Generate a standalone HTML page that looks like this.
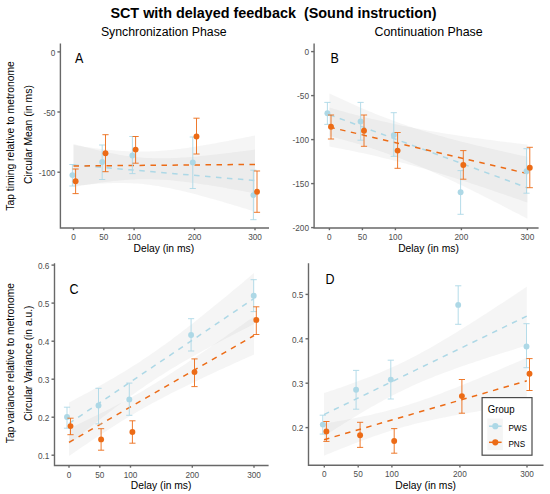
<!DOCTYPE html>
<html><head><meta charset="utf-8"><style>html,body{margin:0;padding:0;background:#fff;}svg{display:block;}</style></head>
<body><svg width="550" height="494" viewBox="0 0 550 494">
<rect width="550" height="494" fill="#fff"/>
<text x="273.5" y="18.1" font-size="14.4" font-family="Liberation Sans, sans-serif" fill="#000" text-anchor="middle" font-weight="bold">SCT with delayed feedback&#160;&#160;(Sound instruction)</text><text x="163.8" y="35.7" font-size="12.3" font-family="Liberation Sans, sans-serif" fill="#000" text-anchor="middle" font-weight="normal">Synchronization Phase</text><text x="428.6" y="35.7" font-size="12.4" font-family="Liberation Sans, sans-serif" fill="#000" text-anchor="middle" font-weight="normal">Continuation Phase</text><path d="M73.50,145.00 L76.53,145.49 L79.55,145.96 L82.58,146.42 L85.60,146.88 L88.62,147.31 L91.65,147.74 L94.67,148.15 L97.70,148.54 L100.72,148.91 L103.75,149.27 L106.78,149.61 L109.80,149.92 L112.83,150.21 L115.85,150.47 L118.88,150.71 L121.90,150.93 L124.92,151.11 L127.95,151.26 L130.97,151.39 L134.00,151.48 L137.03,151.53 L140.05,151.56 L143.07,151.54 L146.10,151.50 L149.12,151.42 L152.15,151.31 L155.18,151.16 L158.20,150.98 L161.22,150.77 L164.25,150.53 L167.28,150.27 L170.30,149.97 L173.32,149.65 L176.35,149.30 L179.38,148.93 L182.40,148.54 L185.43,148.13 L188.45,147.70 L191.48,147.26 L194.50,146.79 L197.53,146.31 L200.55,145.82 L203.57,145.32 L206.60,144.80 L209.62,144.27 L212.65,143.73 L215.68,143.18 L218.70,142.62 L221.72,142.05 L224.75,141.48 L227.78,140.90 L230.80,140.31 L233.82,139.71 L236.85,139.11 L239.88,138.50 L242.90,137.89 L245.92,137.28 L248.95,136.65 L251.97,136.03 L255.00,135.40 L255.00,193.40 L251.97,192.82 L248.95,192.25 L245.92,191.68 L242.90,191.12 L239.88,190.56 L236.85,190.01 L233.82,189.46 L230.80,188.92 L227.78,188.38 L224.75,187.86 L221.72,187.33 L218.70,186.82 L215.68,186.31 L212.65,185.82 L209.62,185.33 L206.60,184.86 L203.57,184.39 L200.55,183.94 L197.53,183.50 L194.50,183.07 L191.48,182.66 L188.45,182.27 L185.43,181.89 L182.40,181.54 L179.38,181.20 L176.35,180.88 L173.32,180.59 L170.30,180.32 L167.28,180.08 L164.25,179.87 L161.22,179.68 L158.20,179.52 L155.18,179.40 L152.15,179.31 L149.12,179.25 L146.10,179.22 L143.07,179.23 L140.05,179.27 L137.03,179.35 L134.00,179.46 L130.97,179.60 L127.95,179.78 L124.92,179.98 L121.90,180.22 L118.88,180.49 L115.85,180.78 L112.83,181.10 L109.80,181.44 L106.78,181.81 L103.75,182.20 L100.72,182.61 L97.70,183.03 L94.67,183.48 L91.65,183.94 L88.62,184.42 L85.60,184.91 L82.58,185.42 L79.55,185.93 L76.53,186.46 L73.50,187.00Z" fill="#999999" fill-opacity="0.1"/><path d="M73.50,143.90 L76.53,144.73 L79.55,145.55 L82.58,146.36 L85.60,147.16 L88.62,147.94 L91.65,148.71 L94.67,149.45 L97.70,150.18 L100.72,150.90 L103.75,151.58 L106.78,152.25 L109.80,152.89 L112.83,153.50 L115.85,154.08 L118.88,154.63 L121.90,155.15 L124.92,155.64 L127.95,156.08 L130.97,156.49 L134.00,156.86 L137.03,157.18 L140.05,157.47 L143.07,157.72 L146.10,157.92 L149.12,158.08 L152.15,158.20 L155.18,158.29 L158.20,158.33 L161.22,158.34 L164.25,158.32 L167.28,158.27 L170.30,158.18 L173.32,158.07 L176.35,157.94 L179.38,157.77 L182.40,157.59 L185.43,157.39 L188.45,157.16 L191.48,156.93 L194.50,156.67 L197.53,156.40 L200.55,156.12 L203.57,155.82 L206.60,155.51 L209.62,155.20 L212.65,154.87 L215.68,154.53 L218.70,154.19 L221.72,153.84 L224.75,153.48 L227.78,153.11 L230.80,152.74 L233.82,152.36 L236.85,151.98 L239.88,151.60 L242.90,151.20 L245.92,150.81 L248.95,150.41 L251.97,150.01 L255.00,149.60 L255.00,211.60 L251.97,210.67 L248.95,209.74 L245.92,208.82 L242.90,207.90 L239.88,206.99 L236.85,206.08 L233.82,205.17 L230.80,204.27 L227.78,203.38 L224.75,202.49 L221.72,201.61 L218.70,200.73 L215.68,199.86 L212.65,199.00 L209.62,198.15 L206.60,197.31 L203.57,196.48 L200.55,195.66 L197.53,194.86 L194.50,194.06 L191.48,193.28 L188.45,192.52 L185.43,191.78 L182.40,191.05 L179.38,190.34 L176.35,189.66 L173.32,189.00 L170.30,188.36 L167.28,187.76 L164.25,187.18 L161.22,186.63 L158.20,186.12 L155.18,185.64 L152.15,185.20 L149.12,184.80 L146.10,184.44 L143.07,184.12 L140.05,183.84 L137.03,183.61 L134.00,183.41 L130.97,183.25 L127.95,183.14 L124.92,183.06 L121.90,183.02 L118.88,183.02 L115.85,183.04 L112.83,183.10 L109.80,183.19 L106.78,183.31 L103.75,183.45 L100.72,183.61 L97.70,183.80 L94.67,184.01 L91.65,184.23 L88.62,184.48 L85.60,184.74 L82.58,185.01 L79.55,185.29 L76.53,185.59 L73.50,185.90Z" fill="#999999" fill-opacity="0.1"/><line x1="73.50" y1="164.90" x2="255.00" y2="180.60" stroke="#ADD8E6" stroke-width="1.5" stroke-dasharray="5.5 5.5"/><line x1="73.50" y1="166.00" x2="255.00" y2="164.40" stroke="#EC6B16" stroke-width="1.5" stroke-dasharray="5.5 5.5"/><path d="M72.40,164.50V186.00M69.30,164.50H75.50M69.30,186.00H75.50" stroke="#ADD8E6" stroke-width="0.9" fill="none"/><circle cx="72.40" cy="175.10" r="2.95" fill="#ADD8E6"/><path d="M102.20,145.00V179.50M99.10,145.00H105.30M99.10,179.50H105.30" stroke="#ADD8E6" stroke-width="0.9" fill="none"/><circle cx="102.20" cy="162.00" r="2.95" fill="#ADD8E6"/><path d="M132.40,136.50V173.60M129.30,136.50H135.50M129.30,173.60H135.50" stroke="#ADD8E6" stroke-width="0.9" fill="none"/><circle cx="132.40" cy="155.50" r="2.95" fill="#ADD8E6"/><path d="M192.80,137.00V188.50M189.70,137.00H195.90M189.70,188.50H195.90" stroke="#ADD8E6" stroke-width="0.9" fill="none"/><circle cx="192.80" cy="162.40" r="2.95" fill="#ADD8E6"/><path d="M253.40,170.20V219.70M250.30,170.20H256.50M250.30,219.70H256.50" stroke="#ADD8E6" stroke-width="0.9" fill="none"/><circle cx="253.40" cy="195.10" r="2.95" fill="#ADD8E6"/><path d="M75.60,169.00V193.60M72.50,169.00H78.70M72.50,193.60H78.70" stroke="#EC6B16" stroke-width="0.9" fill="none"/><circle cx="75.60" cy="181.30" r="2.95" fill="#EC6B16"/><path d="M105.50,134.70V171.70M102.40,134.70H108.60M102.40,171.70H108.60" stroke="#EC6B16" stroke-width="0.9" fill="none"/><circle cx="105.50" cy="153.30" r="2.95" fill="#EC6B16"/><path d="M135.60,136.50V163.20M132.50,136.50H138.70M132.50,163.20H138.70" stroke="#EC6B16" stroke-width="0.9" fill="none"/><circle cx="135.60" cy="149.60" r="2.95" fill="#EC6B16"/><path d="M196.50,118.20V154.00M193.40,118.20H199.60M193.40,154.00H199.60" stroke="#EC6B16" stroke-width="0.9" fill="none"/><circle cx="196.50" cy="136.50" r="2.95" fill="#EC6B16"/><path d="M257.00,171.00V212.30M253.90,171.00H260.10M253.90,212.30H260.10" stroke="#EC6B16" stroke-width="0.9" fill="none"/><circle cx="257.00" cy="191.80" r="2.95" fill="#EC6B16"/><path d="M60.4,43.5V228H269" stroke="#686868" stroke-width="1.4" fill="none"/><line x1="57.4" y1="51.9" x2="60.4" y2="51.9" stroke="#686868" stroke-width="1.4"/><text transform="translate(55.30 55.70) scale(0.84 1)" font-size="9.8" font-family="Liberation Sans, sans-serif" fill="#4D4D4D" text-anchor="end">0</text><line x1="57.4" y1="112.0" x2="60.4" y2="112.0" stroke="#686868" stroke-width="1.4"/><text transform="translate(55.30 115.80) scale(0.84 1)" font-size="9.8" font-family="Liberation Sans, sans-serif" fill="#4D4D4D" text-anchor="end">-50</text><line x1="57.4" y1="172.2" x2="60.4" y2="172.2" stroke="#686868" stroke-width="1.4"/><text transform="translate(55.30 176.00) scale(0.84 1)" font-size="9.8" font-family="Liberation Sans, sans-serif" fill="#4D4D4D" text-anchor="end">-100</text><line x1="73.5" y1="228" x2="73.5" y2="230.2" stroke="#686868" stroke-width="1.4"/><text transform="translate(73.50 239.50) scale(0.84 1)" font-size="9.8" font-family="Liberation Sans, sans-serif" fill="#4D4D4D" text-anchor="middle">0</text><line x1="103.8" y1="228" x2="103.8" y2="230.2" stroke="#686868" stroke-width="1.4"/><text transform="translate(103.80 239.50) scale(0.84 1)" font-size="9.8" font-family="Liberation Sans, sans-serif" fill="#4D4D4D" text-anchor="middle">50</text><line x1="134.1" y1="228" x2="134.1" y2="230.2" stroke="#686868" stroke-width="1.4"/><text transform="translate(134.10 239.50) scale(0.84 1)" font-size="9.8" font-family="Liberation Sans, sans-serif" fill="#4D4D4D" text-anchor="middle">100</text><line x1="194.5" y1="228" x2="194.5" y2="230.2" stroke="#686868" stroke-width="1.4"/><text transform="translate(194.50 239.50) scale(0.84 1)" font-size="9.8" font-family="Liberation Sans, sans-serif" fill="#4D4D4D" text-anchor="middle">200</text><line x1="255" y1="228" x2="255" y2="230.2" stroke="#686868" stroke-width="1.4"/><text transform="translate(255.00 239.50) scale(0.84 1)" font-size="9.8" font-family="Liberation Sans, sans-serif" fill="#4D4D4D" text-anchor="middle">300</text><text transform="translate(74.9 62.5) scale(0.9 1)" font-size="13.9" font-family="Liberation Sans, sans-serif" fill="#000">A</text><path d="M329.40,107.60 L332.70,108.55 L336.00,109.50 L339.30,110.43 L342.60,111.35 L345.90,112.25 L349.20,113.15 L352.50,114.03 L355.80,114.90 L359.10,115.75 L362.40,116.60 L365.70,117.42 L369.00,118.24 L372.30,119.04 L375.60,119.83 L378.90,120.61 L382.20,121.37 L385.50,122.12 L388.80,122.85 L392.10,123.57 L395.40,124.28 L398.70,124.97 L402.00,125.65 L405.30,126.32 L408.60,126.98 L411.90,127.62 L415.20,128.25 L418.50,128.87 L421.80,129.48 L425.10,130.07 L428.40,130.66 L431.70,131.23 L435.00,131.80 L438.30,132.35 L441.60,132.90 L444.90,133.43 L448.20,133.96 L451.50,134.48 L454.80,134.99 L458.10,135.49 L461.40,135.98 L464.70,136.47 L468.00,136.94 L471.30,137.42 L474.60,137.88 L477.90,138.34 L481.20,138.79 L484.50,139.24 L487.80,139.68 L491.10,140.11 L494.40,140.54 L497.70,140.97 L501.00,141.39 L504.30,141.81 L507.60,142.22 L510.90,142.62 L514.20,143.03 L517.50,143.43 L520.80,143.82 L524.10,144.21 L527.40,144.60 L527.40,202.60 L524.10,201.44 L520.80,200.28 L517.50,199.12 L514.20,197.97 L510.90,196.83 L507.60,195.68 L504.30,194.54 L501.00,193.41 L497.70,192.28 L494.40,191.16 L491.10,190.04 L487.80,188.92 L484.50,187.81 L481.20,186.71 L477.90,185.61 L474.60,184.52 L471.30,183.43 L468.00,182.36 L464.70,181.28 L461.40,180.22 L458.10,179.16 L454.80,178.11 L451.50,177.07 L448.20,176.04 L444.90,175.02 L441.60,174.00 L438.30,173.00 L435.00,172.00 L431.70,171.02 L428.40,170.04 L425.10,169.08 L421.80,168.12 L418.50,167.18 L415.20,166.25 L411.90,165.33 L408.60,164.42 L405.30,163.53 L402.00,162.65 L398.70,161.78 L395.40,160.92 L392.10,160.08 L388.80,159.25 L385.50,158.43 L382.20,157.63 L378.90,156.84 L375.60,156.07 L372.30,155.31 L369.00,154.56 L365.70,153.83 L362.40,153.10 L359.10,152.40 L355.80,151.70 L352.50,151.02 L349.20,150.35 L345.90,149.70 L342.60,149.05 L339.30,148.42 L336.00,147.80 L332.70,147.20 L329.40,146.60Z" fill="#999999" fill-opacity="0.1"/><path d="M329.40,93.40 L332.70,94.97 L336.00,96.53 L339.30,98.07 L342.60,99.60 L345.90,101.11 L349.20,102.61 L352.50,104.09 L355.80,105.56 L359.10,107.00 L362.40,108.43 L365.70,109.84 L369.00,111.23 L372.30,112.59 L375.60,113.94 L378.90,115.27 L382.20,116.57 L385.50,117.85 L388.80,119.11 L392.10,120.35 L395.40,121.56 L398.70,122.75 L402.00,123.92 L405.30,125.07 L408.60,126.19 L411.90,127.29 L415.20,128.38 L418.50,129.44 L421.80,130.48 L425.10,131.50 L428.40,132.50 L431.70,133.49 L435.00,134.45 L438.30,135.40 L441.60,136.33 L444.90,137.25 L448.20,138.15 L451.50,139.04 L454.80,139.91 L458.10,140.78 L461.40,141.63 L464.70,142.46 L468.00,143.29 L471.30,144.11 L474.60,144.91 L477.90,145.71 L481.20,146.49 L484.50,147.27 L487.80,148.04 L491.10,148.81 L494.40,149.56 L497.70,150.31 L501.00,151.06 L504.30,151.79 L507.60,152.52 L510.90,153.25 L514.20,153.97 L517.50,154.68 L520.80,155.39 L524.10,156.10 L527.40,156.80 L527.40,218.80 L524.10,217.06 L520.80,215.33 L517.50,213.61 L514.20,211.89 L510.90,210.17 L507.60,208.46 L504.30,206.75 L501.00,205.05 L497.70,203.36 L494.40,201.67 L491.10,199.99 L487.80,198.32 L484.50,196.65 L481.20,194.99 L477.90,193.34 L474.60,191.70 L471.30,190.07 L468.00,188.45 L464.70,186.84 L461.40,185.24 L458.10,183.65 L454.80,182.08 L451.50,180.52 L448.20,178.97 L444.90,177.43 L441.60,175.91 L438.30,174.41 L435.00,172.92 L431.70,171.45 L428.40,170.00 L425.10,168.56 L421.80,167.15 L418.50,165.75 L415.20,164.38 L411.90,163.02 L408.60,161.69 L405.30,160.38 L402.00,159.09 L398.70,157.82 L395.40,156.57 L392.10,155.35 L388.80,154.15 L385.50,152.97 L382.20,151.82 L378.90,150.68 L375.60,149.57 L372.30,148.48 L369.00,147.41 L365.70,146.37 L362.40,145.34 L359.10,144.33 L355.80,143.34 L352.50,142.36 L349.20,141.41 L345.90,140.47 L342.60,139.55 L339.30,138.64 L336.00,137.75 L332.70,136.87 L329.40,136.00Z" fill="#999999" fill-opacity="0.1"/><line x1="329.40" y1="114.70" x2="527.40" y2="187.80" stroke="#ADD8E6" stroke-width="1.5" stroke-dasharray="5.5 5.5"/><line x1="329.40" y1="127.10" x2="527.40" y2="173.60" stroke="#EC6B16" stroke-width="1.5" stroke-dasharray="5.5 5.5"/><path d="M327.40,102.40V124.40M324.30,102.40H330.50M324.30,124.40H330.50" stroke="#ADD8E6" stroke-width="0.9" fill="none"/><circle cx="327.40" cy="113.20" r="2.95" fill="#ADD8E6"/><path d="M360.60,102.40V140.20M357.50,102.40H363.70M357.50,140.20H363.70" stroke="#ADD8E6" stroke-width="0.9" fill="none"/><circle cx="360.60" cy="121.50" r="2.95" fill="#ADD8E6"/><path d="M393.80,112.70V156.30M390.70,112.70H396.90M390.70,156.30H396.90" stroke="#ADD8E6" stroke-width="0.9" fill="none"/><circle cx="393.80" cy="135.10" r="2.95" fill="#ADD8E6"/><path d="M460.60,170.60V214.30M457.50,170.60H463.70M457.50,214.30H463.70" stroke="#ADD8E6" stroke-width="0.9" fill="none"/><circle cx="460.60" cy="192.30" r="2.95" fill="#ADD8E6"/><path d="M526.50,148.70V193.20M523.40,148.70H529.60M523.40,193.20H529.60" stroke="#ADD8E6" stroke-width="0.9" fill="none"/><circle cx="526.50" cy="171.30" r="2.95" fill="#ADD8E6"/><path d="M331.00,115.00V139.00M327.90,115.00H334.10M327.90,139.00H334.10" stroke="#EC6B16" stroke-width="0.9" fill="none"/><circle cx="331.00" cy="126.70" r="2.95" fill="#EC6B16"/><path d="M364.00,115.00V146.30M360.90,115.00H367.10M360.90,146.30H367.10" stroke="#EC6B16" stroke-width="0.9" fill="none"/><circle cx="364.00" cy="130.80" r="2.95" fill="#EC6B16"/><path d="M397.60,132.50V168.30M394.50,132.50H400.70M394.50,168.30H400.70" stroke="#EC6B16" stroke-width="0.9" fill="none"/><circle cx="397.60" cy="150.60" r="2.95" fill="#EC6B16"/><path d="M463.30,150.60V179.20M460.20,150.60H466.40M460.20,179.20H466.40" stroke="#EC6B16" stroke-width="0.9" fill="none"/><circle cx="463.30" cy="165.00" r="2.95" fill="#EC6B16"/><path d="M529.80,147.30V187.70M526.70,147.30H532.90M526.70,187.70H532.90" stroke="#EC6B16" stroke-width="0.9" fill="none"/><circle cx="529.80" cy="167.70" r="2.95" fill="#EC6B16"/><path d="M314.1,43.6V228H538.6" stroke="#686868" stroke-width="1.4" fill="none"/><line x1="311.1" y1="51.6" x2="314.1" y2="51.6" stroke="#686868" stroke-width="1.4"/><text transform="translate(309.00 55.40) scale(0.84 1)" font-size="9.8" font-family="Liberation Sans, sans-serif" fill="#4D4D4D" text-anchor="end">0</text><line x1="311.1" y1="95.6" x2="314.1" y2="95.6" stroke="#686868" stroke-width="1.4"/><text transform="translate(309.00 99.40) scale(0.84 1)" font-size="9.8" font-family="Liberation Sans, sans-serif" fill="#4D4D4D" text-anchor="end">-50</text><line x1="311.1" y1="139.6" x2="314.1" y2="139.6" stroke="#686868" stroke-width="1.4"/><text transform="translate(309.00 143.40) scale(0.84 1)" font-size="9.8" font-family="Liberation Sans, sans-serif" fill="#4D4D4D" text-anchor="end">-100</text><line x1="311.1" y1="183.6" x2="314.1" y2="183.6" stroke="#686868" stroke-width="1.4"/><text transform="translate(309.00 187.40) scale(0.84 1)" font-size="9.8" font-family="Liberation Sans, sans-serif" fill="#4D4D4D" text-anchor="end">-150</text><line x1="311.1" y1="227.6" x2="314.1" y2="227.6" stroke="#686868" stroke-width="1.4"/><text transform="translate(309.00 231.40) scale(0.84 1)" font-size="9.8" font-family="Liberation Sans, sans-serif" fill="#4D4D4D" text-anchor="end">-200</text><line x1="329.4" y1="228" x2="329.4" y2="230.2" stroke="#686868" stroke-width="1.4"/><text transform="translate(329.40 239.50) scale(0.84 1)" font-size="9.8" font-family="Liberation Sans, sans-serif" fill="#4D4D4D" text-anchor="middle">0</text><line x1="362.4" y1="228" x2="362.4" y2="230.2" stroke="#686868" stroke-width="1.4"/><text transform="translate(362.40 239.50) scale(0.84 1)" font-size="9.8" font-family="Liberation Sans, sans-serif" fill="#4D4D4D" text-anchor="middle">50</text><line x1="395.4" y1="228" x2="395.4" y2="230.2" stroke="#686868" stroke-width="1.4"/><text transform="translate(395.40 239.50) scale(0.84 1)" font-size="9.8" font-family="Liberation Sans, sans-serif" fill="#4D4D4D" text-anchor="middle">100</text><line x1="461.4" y1="228" x2="461.4" y2="230.2" stroke="#686868" stroke-width="1.4"/><text transform="translate(461.40 239.50) scale(0.84 1)" font-size="9.8" font-family="Liberation Sans, sans-serif" fill="#4D4D4D" text-anchor="middle">200</text><line x1="527.4" y1="228" x2="527.4" y2="230.2" stroke="#686868" stroke-width="1.4"/><text transform="translate(527.40 239.50) scale(0.84 1)" font-size="9.8" font-family="Liberation Sans, sans-serif" fill="#4D4D4D" text-anchor="middle">300</text><text transform="translate(330.4 63.1) scale(0.9 1)" font-size="13.9" font-family="Liberation Sans, sans-serif" fill="#000">B</text><path d="M69.00,428.60 L72.08,427.16 L75.17,425.71 L78.25,424.26 L81.33,422.80 L84.42,421.32 L87.50,419.84 L90.58,418.35 L93.67,416.85 L96.75,415.34 L99.83,413.81 L102.92,412.28 L106.00,410.72 L109.08,409.15 L112.17,407.57 L115.25,405.97 L118.33,404.35 L121.42,402.71 L124.50,401.05 L127.58,399.37 L130.67,397.67 L133.75,395.94 L136.83,394.19 L139.92,392.42 L143.00,390.63 L146.08,388.82 L149.17,386.98 L152.25,385.12 L155.33,383.24 L158.42,381.33 L161.50,379.41 L164.58,377.47 L167.67,375.51 L170.75,373.53 L173.83,371.54 L176.92,369.53 L180.00,367.51 L183.08,365.47 L186.17,363.42 L189.25,361.36 L192.33,359.29 L195.42,357.21 L198.50,355.12 L201.58,353.02 L204.67,350.92 L207.75,348.80 L210.83,346.68 L213.92,344.56 L217.00,342.42 L220.08,340.29 L223.17,338.14 L226.25,336.00 L229.33,333.84 L232.42,331.69 L235.50,329.53 L238.58,327.36 L241.67,325.20 L244.75,323.03 L247.83,320.85 L250.92,318.68 L254.00,316.50 L254.00,354.50 L250.92,355.88 L247.83,357.27 L244.75,358.65 L241.67,360.04 L238.58,361.44 L235.50,362.83 L232.42,364.23 L229.33,365.64 L226.25,367.04 L223.17,368.46 L220.08,369.87 L217.00,371.30 L213.92,372.72 L210.83,374.16 L207.75,375.60 L204.67,377.04 L201.58,378.50 L198.50,379.96 L195.42,381.43 L192.33,382.91 L189.25,384.40 L186.17,385.90 L183.08,387.41 L180.00,388.93 L176.92,390.47 L173.83,392.02 L170.75,393.59 L167.67,395.17 L164.58,396.77 L161.50,398.39 L158.42,400.03 L155.33,401.68 L152.25,403.36 L149.17,405.06 L146.08,406.78 L143.00,408.53 L139.92,410.30 L136.83,412.09 L133.75,413.90 L130.67,415.73 L127.58,417.59 L124.50,419.47 L121.42,421.37 L118.33,423.29 L115.25,425.23 L112.17,427.19 L109.08,429.17 L106.00,431.16 L102.92,433.16 L99.83,435.19 L96.75,437.22 L93.67,439.27 L90.58,441.33 L87.50,443.40 L84.42,445.48 L81.33,447.56 L78.25,449.66 L75.17,451.77 L72.08,453.88 L69.00,456.00Z" fill="#999999" fill-opacity="0.1"/><path d="M69.00,402.50 L72.08,400.88 L75.17,399.25 L78.25,397.61 L81.33,395.96 L84.42,394.30 L87.50,392.63 L90.58,390.95 L93.67,389.25 L96.75,387.54 L99.83,385.82 L102.92,384.08 L106.00,382.33 L109.08,380.55 L112.17,378.76 L115.25,376.95 L118.33,375.12 L121.42,373.27 L124.50,371.39 L127.58,369.49 L130.67,367.57 L133.75,365.62 L136.83,363.65 L139.92,361.64 L143.00,359.61 L146.08,357.56 L149.17,355.47 L152.25,353.36 L155.33,351.22 L158.42,349.05 L161.50,346.86 L164.58,344.64 L167.67,342.40 L170.75,340.13 L173.83,337.83 L176.92,335.52 L180.00,333.18 L183.08,330.82 L186.17,328.45 L189.25,326.05 L192.33,323.64 L195.42,321.21 L198.50,318.76 L201.58,316.31 L204.67,313.83 L207.75,311.35 L210.83,308.85 L213.92,306.34 L217.00,303.82 L220.08,301.30 L223.17,298.76 L226.25,296.21 L229.33,293.66 L232.42,291.10 L235.50,288.53 L238.58,285.96 L241.67,283.38 L244.75,280.79 L247.83,278.20 L250.92,275.60 L254.00,273.00 L254.00,324.00 L250.92,325.57 L247.83,327.14 L244.75,328.71 L241.67,330.29 L238.58,331.88 L235.50,333.47 L232.42,335.07 L229.33,336.67 L226.25,338.29 L223.17,339.91 L220.08,341.54 L217.00,343.18 L213.92,344.82 L210.83,346.48 L207.75,348.15 L204.67,349.83 L201.58,351.53 L198.50,353.24 L195.42,354.96 L192.33,356.70 L189.25,358.45 L186.17,360.22 L183.08,362.01 L180.00,363.82 L176.92,365.65 L173.83,367.50 L170.75,369.37 L167.67,371.27 L164.58,373.19 L161.50,375.14 L158.42,377.11 L155.33,379.11 L152.25,381.14 L149.17,383.19 L146.08,385.28 L143.00,387.39 L139.92,389.52 L136.83,391.69 L133.75,393.88 L130.67,396.10 L127.58,398.34 L124.50,400.61 L121.42,402.90 L118.33,405.21 L115.25,407.55 L112.17,409.90 L109.08,412.28 L106.00,414.67 L102.92,417.09 L99.83,419.51 L96.75,421.96 L93.67,424.41 L90.58,426.89 L87.50,429.37 L84.42,431.87 L81.33,434.37 L78.25,436.89 L75.17,439.42 L72.08,441.96 L69.00,444.50Z" fill="#999999" fill-opacity="0.1"/><line x1="69.00" y1="423.50" x2="254.00" y2="298.50" stroke="#ADD8E6" stroke-width="1.5" stroke-dasharray="5.5 5.5"/><line x1="69.00" y1="442.30" x2="254.00" y2="335.50" stroke="#EC6B16" stroke-width="1.5" stroke-dasharray="5.5 5.5"/><path d="M67.00,407.20V428.20M63.90,407.20H70.10M63.90,428.20H70.10" stroke="#ADD8E6" stroke-width="0.9" fill="none"/><circle cx="67.00" cy="417.00" r="2.95" fill="#ADD8E6"/><path d="M98.50,388.30V423.90M95.40,388.30H101.60M95.40,423.90H101.60" stroke="#ADD8E6" stroke-width="0.9" fill="none"/><circle cx="98.50" cy="405.50" r="2.95" fill="#ADD8E6"/><path d="M129.30,383.10V415.30M126.20,383.10H132.40M126.20,415.30H132.40" stroke="#ADD8E6" stroke-width="0.9" fill="none"/><circle cx="129.30" cy="399.40" r="2.95" fill="#ADD8E6"/><path d="M191.10,318.70V351.00M188.00,318.70H194.20M188.00,351.00H194.20" stroke="#ADD8E6" stroke-width="0.9" fill="none"/><circle cx="191.10" cy="335.00" r="2.95" fill="#ADD8E6"/><path d="M253.70,279.70V311.60M250.60,279.70H256.80M250.60,311.60H256.80" stroke="#ADD8E6" stroke-width="0.9" fill="none"/><circle cx="253.70" cy="295.80" r="2.95" fill="#ADD8E6"/><path d="M70.50,418.20V434.70M67.40,418.20H73.60M67.40,434.70H73.60" stroke="#EC6B16" stroke-width="0.9" fill="none"/><circle cx="70.50" cy="426.10" r="2.95" fill="#EC6B16"/><path d="M101.10,428.70V450.20M98.00,428.70H104.20M98.00,450.20H104.20" stroke="#EC6B16" stroke-width="0.9" fill="none"/><circle cx="101.10" cy="439.40" r="2.95" fill="#EC6B16"/><path d="M132.40,420.80V443.20M129.30,420.80H135.50M129.30,443.20H135.50" stroke="#EC6B16" stroke-width="0.9" fill="none"/><circle cx="132.40" cy="432.00" r="2.95" fill="#EC6B16"/><path d="M194.50,358.90V386.60M191.40,358.90H197.60M191.40,386.60H197.60" stroke="#EC6B16" stroke-width="0.9" fill="none"/><circle cx="194.50" cy="372.10" r="2.95" fill="#EC6B16"/><path d="M256.30,306.80V334.50M253.20,306.80H259.40M253.20,334.50H259.40" stroke="#EC6B16" stroke-width="0.9" fill="none"/><circle cx="256.30" cy="320.00" r="2.95" fill="#EC6B16"/><path d="M54.5,263.3V465.5H268.6" stroke="#686868" stroke-width="1.4" fill="none"/><line x1="51.5" y1="265.1" x2="54.5" y2="265.1" stroke="#686868" stroke-width="1.4"/><text transform="translate(49.40 268.90) scale(0.84 1)" font-size="9.8" font-family="Liberation Sans, sans-serif" fill="#4D4D4D" text-anchor="end">0.6</text><line x1="51.5" y1="303.1" x2="54.5" y2="303.1" stroke="#686868" stroke-width="1.4"/><text transform="translate(49.40 306.90) scale(0.84 1)" font-size="9.8" font-family="Liberation Sans, sans-serif" fill="#4D4D4D" text-anchor="end">0.5</text><line x1="51.5" y1="341.2" x2="54.5" y2="341.2" stroke="#686868" stroke-width="1.4"/><text transform="translate(49.40 345.00) scale(0.84 1)" font-size="9.8" font-family="Liberation Sans, sans-serif" fill="#4D4D4D" text-anchor="end">0.4</text><line x1="51.5" y1="379.2" x2="54.5" y2="379.2" stroke="#686868" stroke-width="1.4"/><text transform="translate(49.40 383.00) scale(0.84 1)" font-size="9.8" font-family="Liberation Sans, sans-serif" fill="#4D4D4D" text-anchor="end">0.3</text><line x1="51.5" y1="417.2" x2="54.5" y2="417.2" stroke="#686868" stroke-width="1.4"/><text transform="translate(49.40 421.00) scale(0.84 1)" font-size="9.8" font-family="Liberation Sans, sans-serif" fill="#4D4D4D" text-anchor="end">0.2</text><line x1="51.5" y1="455.2" x2="54.5" y2="455.2" stroke="#686868" stroke-width="1.4"/><text transform="translate(49.40 459.00) scale(0.84 1)" font-size="9.8" font-family="Liberation Sans, sans-serif" fill="#4D4D4D" text-anchor="end">0.1</text><line x1="69" y1="465.5" x2="69" y2="467.7" stroke="#686868" stroke-width="1.4"/><text transform="translate(69.00 477.60) scale(0.84 1)" font-size="9.8" font-family="Liberation Sans, sans-serif" fill="#4D4D4D" text-anchor="middle">0</text><line x1="99.8" y1="465.5" x2="99.8" y2="467.7" stroke="#686868" stroke-width="1.4"/><text transform="translate(99.80 477.60) scale(0.84 1)" font-size="9.8" font-family="Liberation Sans, sans-serif" fill="#4D4D4D" text-anchor="middle">50</text><line x1="130.5" y1="465.5" x2="130.5" y2="467.7" stroke="#686868" stroke-width="1.4"/><text transform="translate(130.50 477.60) scale(0.84 1)" font-size="9.8" font-family="Liberation Sans, sans-serif" fill="#4D4D4D" text-anchor="middle">100</text><line x1="192.3" y1="465.5" x2="192.3" y2="467.7" stroke="#686868" stroke-width="1.4"/><text transform="translate(192.30 477.60) scale(0.84 1)" font-size="9.8" font-family="Liberation Sans, sans-serif" fill="#4D4D4D" text-anchor="middle">200</text><line x1="254" y1="465.5" x2="254" y2="467.7" stroke="#686868" stroke-width="1.4"/><text transform="translate(254.00 477.60) scale(0.84 1)" font-size="9.8" font-family="Liberation Sans, sans-serif" fill="#4D4D4D" text-anchor="middle">300</text><text transform="translate(69.6 294.3) scale(0.9 1)" font-size="13.9" font-family="Liberation Sans, sans-serif" fill="#000">C</text><path d="M324.00,423.70 L327.38,423.13 L330.76,422.55 L334.14,421.96 L337.52,421.36 L340.90,420.76 L344.28,420.14 L347.66,419.50 L351.04,418.86 L354.42,418.20 L357.80,417.52 L361.18,416.83 L364.56,416.11 L367.94,415.38 L371.32,414.63 L374.70,413.86 L378.08,413.06 L381.46,412.24 L384.84,411.39 L388.22,410.52 L391.60,409.62 L394.98,408.69 L398.36,407.73 L401.74,406.75 L405.12,405.73 L408.50,404.69 L411.88,403.62 L415.26,402.52 L418.64,401.39 L422.02,400.25 L425.40,399.07 L428.78,397.88 L432.16,396.66 L435.54,395.42 L438.92,394.16 L442.30,392.89 L445.68,391.59 L449.06,390.29 L452.44,388.97 L455.82,387.63 L459.20,386.28 L462.58,384.93 L465.96,383.56 L469.34,382.18 L472.72,380.79 L476.10,379.40 L479.48,377.99 L482.86,376.58 L486.24,375.17 L489.62,373.75 L493.00,372.32 L496.38,370.88 L499.76,369.45 L503.14,368.00 L506.52,366.56 L509.90,365.10 L513.28,363.65 L516.66,362.19 L520.04,360.73 L523.42,359.27 L526.80,357.80 L526.80,403.80 L523.42,404.30 L520.04,404.80 L516.66,405.30 L513.28,405.80 L509.90,406.31 L506.52,406.82 L503.14,407.34 L499.76,407.86 L496.38,408.39 L493.00,408.92 L489.62,409.45 L486.24,409.99 L482.86,410.54 L479.48,411.09 L476.10,411.65 L472.72,412.22 L469.34,412.80 L465.96,413.38 L462.58,413.98 L459.20,414.58 L455.82,415.20 L452.44,415.83 L449.06,416.47 L445.68,417.13 L442.30,417.80 L438.92,418.49 L435.54,419.19 L432.16,419.92 L428.78,420.66 L425.40,421.43 L422.02,422.22 L418.64,423.03 L415.26,423.87 L411.88,424.74 L408.50,425.63 L405.12,426.55 L401.74,427.50 L398.36,428.48 L394.98,429.48 L391.60,430.52 L388.22,431.58 L384.84,432.67 L381.46,433.78 L378.08,434.93 L374.70,436.09 L371.32,437.28 L367.94,438.49 L364.56,439.73 L361.18,440.98 L357.80,442.25 L354.42,443.53 L351.04,444.84 L347.66,446.15 L344.28,447.48 L340.90,448.83 L337.52,450.18 L334.14,451.55 L330.76,452.92 L327.38,454.31 L324.00,455.70Z" fill="#999999" fill-opacity="0.1"/><path d="M324.00,393.10 L327.38,391.98 L330.76,390.86 L334.14,389.72 L337.52,388.57 L340.90,387.41 L344.28,386.23 L347.66,385.04 L351.04,383.83 L354.42,382.60 L357.80,381.36 L361.18,380.09 L364.56,378.80 L367.94,377.49 L371.32,376.15 L374.70,374.79 L378.08,373.40 L381.46,371.98 L384.84,370.53 L388.22,369.05 L391.60,367.54 L394.98,365.99 L398.36,364.41 L401.74,362.79 L405.12,361.14 L408.50,359.45 L411.88,357.73 L415.26,355.97 L418.64,354.18 L422.02,352.36 L425.40,350.51 L428.78,348.63 L432.16,346.72 L435.54,344.78 L438.92,342.82 L442.30,340.83 L445.68,338.82 L449.06,336.79 L452.44,334.74 L455.82,332.67 L459.20,330.59 L462.58,328.49 L465.96,326.37 L469.34,324.24 L472.72,322.10 L476.10,319.95 L479.48,317.79 L482.86,315.61 L486.24,313.43 L489.62,311.24 L493.00,309.04 L496.38,306.83 L499.76,304.62 L503.14,302.40 L506.52,300.17 L509.90,297.94 L513.28,295.70 L516.66,293.46 L520.04,291.21 L523.42,288.96 L526.80,286.70 L526.80,345.50 L523.42,346.53 L520.04,347.56 L516.66,348.59 L513.28,349.63 L509.90,350.68 L506.52,351.73 L503.14,352.79 L499.76,353.85 L496.38,354.92 L493.00,355.99 L489.62,357.08 L486.24,358.17 L482.86,359.27 L479.48,360.38 L476.10,361.50 L472.72,362.63 L469.34,363.77 L465.96,364.93 L462.58,366.10 L459.20,367.28 L455.82,368.48 L452.44,369.69 L449.06,370.93 L445.68,372.18 L442.30,373.45 L438.92,374.75 L435.54,376.07 L432.16,377.42 L428.78,378.79 L425.40,380.19 L422.02,381.62 L418.64,383.09 L415.26,384.58 L411.88,386.11 L408.50,387.67 L405.12,389.26 L401.74,390.89 L398.36,392.56 L394.98,394.26 L391.60,396.00 L388.22,397.77 L384.84,399.57 L381.46,401.40 L378.08,403.26 L374.70,405.16 L371.32,407.08 L367.94,409.03 L364.56,411.00 L361.18,412.99 L357.80,415.01 L354.42,417.05 L351.04,419.10 L347.66,421.18 L344.28,423.27 L340.90,425.38 L337.52,427.50 L334.14,429.63 L330.76,431.78 L327.38,433.93 L324.00,436.10Z" fill="#999999" fill-opacity="0.1"/><line x1="324.00" y1="414.60" x2="526.80" y2="316.10" stroke="#ADD8E6" stroke-width="1.5" stroke-dasharray="5.5 5.5"/><line x1="324.00" y1="439.70" x2="526.80" y2="380.80" stroke="#EC6B16" stroke-width="1.5" stroke-dasharray="5.5 5.5"/><path d="M322.80,415.20V434.10M319.70,415.20H325.90M319.70,434.10H325.90" stroke="#ADD8E6" stroke-width="0.9" fill="none"/><circle cx="322.80" cy="424.60" r="2.95" fill="#ADD8E6"/><path d="M356.10,370.40V409.20M353.00,370.40H359.20M353.00,409.20H359.20" stroke="#ADD8E6" stroke-width="0.9" fill="none"/><circle cx="356.10" cy="389.80" r="2.95" fill="#ADD8E6"/><path d="M390.80,360.20V399.00M387.70,360.20H393.90M387.70,399.00H393.90" stroke="#ADD8E6" stroke-width="0.9" fill="none"/><circle cx="390.80" cy="379.60" r="2.95" fill="#ADD8E6"/><path d="M458.20,285.80V324.30M455.10,285.80H461.30M455.10,324.30H461.30" stroke="#ADD8E6" stroke-width="0.9" fill="none"/><circle cx="458.20" cy="304.90" r="2.95" fill="#ADD8E6"/><path d="M526.50,323.70V367.70M523.40,323.70H529.60M523.40,367.70H529.60" stroke="#ADD8E6" stroke-width="0.9" fill="none"/><circle cx="526.50" cy="346.50" r="2.95" fill="#ADD8E6"/><path d="M326.40,421.50V441.40M323.30,421.50H329.50M323.30,441.40H329.50" stroke="#EC6B16" stroke-width="0.9" fill="none"/><circle cx="326.40" cy="431.40" r="2.95" fill="#EC6B16"/><path d="M360.10,422.30V447.40M357.00,422.30H363.20M357.00,447.40H363.20" stroke="#EC6B16" stroke-width="0.9" fill="none"/><circle cx="360.10" cy="435.20" r="2.95" fill="#EC6B16"/><path d="M394.20,428.60V453.20M391.10,428.60H397.30M391.10,453.20H397.30" stroke="#EC6B16" stroke-width="0.9" fill="none"/><circle cx="394.20" cy="441.00" r="2.95" fill="#EC6B16"/><path d="M461.90,379.50V413.20M458.80,379.50H465.00M458.80,413.20H465.00" stroke="#EC6B16" stroke-width="0.9" fill="none"/><circle cx="461.90" cy="396.10" r="2.95" fill="#EC6B16"/><path d="M529.50,358.60V390.50M526.40,358.60H532.60M526.40,390.50H532.60" stroke="#EC6B16" stroke-width="0.9" fill="none"/><circle cx="529.50" cy="373.80" r="2.95" fill="#EC6B16"/><path d="M308.5,263.3V465.3H543.5" stroke="#686868" stroke-width="1.4" fill="none"/><line x1="305.5" y1="294.4" x2="308.5" y2="294.4" stroke="#686868" stroke-width="1.4"/><text transform="translate(303.40 298.20) scale(0.84 1)" font-size="9.8" font-family="Liberation Sans, sans-serif" fill="#4D4D4D" text-anchor="end">0.5</text><line x1="305.5" y1="338.8" x2="308.5" y2="338.8" stroke="#686868" stroke-width="1.4"/><text transform="translate(303.40 342.60) scale(0.84 1)" font-size="9.8" font-family="Liberation Sans, sans-serif" fill="#4D4D4D" text-anchor="end">0.4</text><line x1="305.5" y1="383.2" x2="308.5" y2="383.2" stroke="#686868" stroke-width="1.4"/><text transform="translate(303.40 387.00) scale(0.84 1)" font-size="9.8" font-family="Liberation Sans, sans-serif" fill="#4D4D4D" text-anchor="end">0.3</text><line x1="305.5" y1="427.6" x2="308.5" y2="427.6" stroke="#686868" stroke-width="1.4"/><text transform="translate(303.40 431.40) scale(0.84 1)" font-size="9.8" font-family="Liberation Sans, sans-serif" fill="#4D4D4D" text-anchor="end">0.2</text><line x1="324.3" y1="465.3" x2="324.3" y2="467.5" stroke="#686868" stroke-width="1.4"/><text transform="translate(324.30 477.40) scale(0.84 1)" font-size="9.8" font-family="Liberation Sans, sans-serif" fill="#4D4D4D" text-anchor="middle">0</text><line x1="358.2" y1="465.3" x2="358.2" y2="467.5" stroke="#686868" stroke-width="1.4"/><text transform="translate(358.20 477.40) scale(0.84 1)" font-size="9.8" font-family="Liberation Sans, sans-serif" fill="#4D4D4D" text-anchor="middle">50</text><line x1="391.9" y1="465.3" x2="391.9" y2="467.5" stroke="#686868" stroke-width="1.4"/><text transform="translate(391.90 477.40) scale(0.84 1)" font-size="9.8" font-family="Liberation Sans, sans-serif" fill="#4D4D4D" text-anchor="middle">100</text><line x1="459.9" y1="465.3" x2="459.9" y2="467.5" stroke="#686868" stroke-width="1.4"/><text transform="translate(459.90 477.40) scale(0.84 1)" font-size="9.8" font-family="Liberation Sans, sans-serif" fill="#4D4D4D" text-anchor="middle">200</text><line x1="527" y1="465.3" x2="527" y2="467.5" stroke="#686868" stroke-width="1.4"/><text transform="translate(527.00 477.40) scale(0.84 1)" font-size="9.8" font-family="Liberation Sans, sans-serif" fill="#4D4D4D" text-anchor="middle">300</text><text transform="translate(325.5 283.8) scale(0.9 1)" font-size="13.9" font-family="Liberation Sans, sans-serif" fill="#000">D</text><text x="163.8" y="252.2" font-size="10.3" font-family="Liberation Sans, sans-serif" fill="#000" text-anchor="middle" font-weight="normal">Delay (in ms)</text><text x="428.5" y="251.9" font-size="10.3" font-family="Liberation Sans, sans-serif" fill="#000" text-anchor="middle" font-weight="normal">Delay (in ms)</text><text x="161.1" y="489.0" font-size="10.3" font-family="Liberation Sans, sans-serif" fill="#000" text-anchor="middle" font-weight="normal">Delay (in ms)</text><text x="425.7" y="489.0" font-size="10.3" font-family="Liberation Sans, sans-serif" fill="#000" text-anchor="middle" font-weight="normal">Delay (in ms)</text><text x="13.8" y="136" font-size="10.3" font-family="Liberation Sans, sans-serif" fill="#000" text-anchor="middle" font-weight="normal" transform="rotate(-90 13.8 136)">Tap timing relative to metronome</text><text x="31.6" y="134.6" font-size="10.35" font-family="Liberation Sans, sans-serif" fill="#000" text-anchor="middle" font-weight="normal" transform="rotate(-90 31.6 134.6)">Circular Mean (in ms)</text><text x="14.1" y="363.1" font-size="10.25" font-family="Liberation Sans, sans-serif" fill="#000" text-anchor="middle" font-weight="normal" transform="rotate(-90 14.1 363.1)">Tap variance relative to metronome</text><text x="32.3" y="363.3" font-size="10.25" font-family="Liberation Sans, sans-serif" fill="#000" text-anchor="middle" font-weight="normal" transform="rotate(-90 32.3 363.3)">Circular Variance (in a.u.)</text><rect x="482.1" y="397.6" width="49.9" height="57.6" fill="#fff" stroke="#4a4a4a" stroke-width="1.2"/><text transform="translate(487.7 413.1) scale(0.92 1)" font-size="10.5" font-family="Liberation Sans, sans-serif" fill="#000">Group</text><rect x="487.3" y="418.5" width="15.6" height="31.6" fill="#999999" fill-opacity="0.1"/><line x1="489" y1="426.2" x2="501.6" y2="426.2" stroke="#ADD8E6" stroke-width="1.5"/><circle cx="495.3" cy="426.2" r="3.1" fill="#ADD8E6"/><text transform="translate(508.4 430.6) scale(0.93 1)" font-size="8.8" font-family="Liberation Sans, sans-serif" fill="#000">PWS</text><line x1="489" y1="442.3" x2="501.6" y2="442.3" stroke="#EC6B16" stroke-width="1.5"/><circle cx="495.3" cy="442.3" r="3.1" fill="#EC6B16"/><text transform="translate(508.4 446.7) scale(0.93 1)" font-size="8.8" font-family="Liberation Sans, sans-serif" fill="#000">PNS</text>
</svg></body></html>
